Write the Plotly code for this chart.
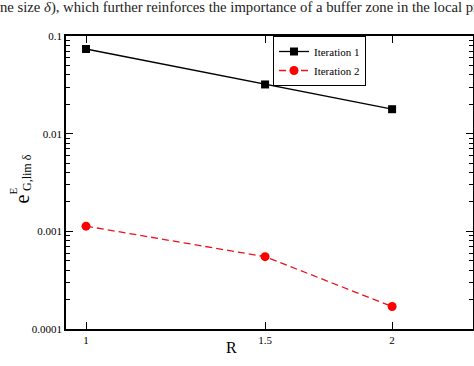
import plotly.graph_objects as go

R = [1, 1.5, 2]
iter1 = [0.0736, 0.0319, 0.0178]
iter2 = [0.00113, 0.00055, 0.00017]
names = ["Iteration 1", "Iteration 2"]
y_tickvals = [0.0001, 0.001, 0.01, 0.1]
y_ticktext = ["0.0001", "0.001", "0.01", "0.1"]
x_tickvals = [1, 1.5, 2]
x_ticktext = ["1", "1.5", "2"]

minor_y = [m * 10.0 ** e for e in range(-4, -1 + 1) for m in range(2, 10) if m * 10.0 ** e < 0.1]

SERIF = "Liberation Serif"
L, T, W, H = 66, 36, 407, 293


def px(x):
    return (x - L) / W


def py(y):
    return (T + H - y) / H


fig = go.Figure()
fig.add_trace(go.Scatter(x=R, y=iter1, name=names[0], mode="lines+markers",
                         line=dict(color="black", width=1.3),
                         marker=dict(symbol="square", size=8, color="black")))
fig.add_trace(go.Scatter(x=R, y=iter2, name=names[1], mode="lines+markers",
                         line=dict(color="#e8141c", width=1.3, dash="7px,4px"),
                         marker=dict(symbol="circle", size=9, color="#ff0000")))

fig.update_layout(
    width=474, height=366,
    margin=dict(l=L, r=474 - L - W, t=T, b=366 - T - H, autoexpand=False),
    paper_bgcolor="white", plot_bgcolor="white",
    font=dict(family=SERIF, color="black", size=11),
    showlegend=True,
    legend=dict(x=px(273), y=1.0, xanchor="left", yanchor="top",
                bgcolor="white", bordercolor="black", borderwidth=1,
                font=dict(family=SERIF, size=11, color="black"), tracegroupgap=0,
                itemwidth=30),
    xaxis=dict(type="log", range=[-0.0197, 0.3806],
               tickvals=x_tickvals, ticktext=x_ticktext,
               ticks="inside", ticklen=7, tickwidth=1, tickcolor="black",
               showline=True, linecolor="black", linewidth=1.5, mirror="allticks",
               showgrid=False, zeroline=False,
               tickfont=dict(family=SERIF, size=11)),
    yaxis=dict(type="log", range=[-4, -1],
               tickvals=y_tickvals, ticktext=y_ticktext,
               ticks="inside", ticklen=7, tickwidth=1, tickcolor="black",
               showline=True, linecolor="black", linewidth=1.5, mirror="allticks",
               showgrid=False, zeroline=False,
               tickfont=dict(family=SERIF, size=11),
               minor=dict(tickvals=minor_y, ticks="inside", ticklen=4,
                          tickcolor="black", tickwidth=1, showgrid=False)),
)

# x axis title
fig.add_annotation(text="R", xref="paper", yref="paper", x=px(231.5), y=py(347),
                   xanchor="center", yanchor="middle", showarrow=False,
                   font=dict(family=SERIF, size=16))

# y axis title composed of base, superscript and subscript
fig.add_annotation(text="e", xref="paper", yref="paper", x=px(21.5), y=py(199),
                   xanchor="center", yanchor="middle", showarrow=False, textangle=-90,
                   font=dict(family=SERIF, size=20))
fig.add_annotation(text="E", xref="paper", yref="paper", x=px(12), y=py(191.5),
                   xanchor="center", yanchor="middle", showarrow=False, textangle=-90,
                   font=dict(family=SERIF, size=11))
fig.add_annotation(text="G,lim δ", xref="paper", yref="paper", x=px(26.5), y=py(172.5),
                   xanchor="center", yanchor="middle", showarrow=False, textangle=-90,
                   font=dict(family=SERIF, size=12))

# clipped caption text at top
fig.add_annotation(text="ne size <i>δ</i>), which further reinforces the importance of a buffer zone in the local pr",
                   xref="paper", yref="paper", x=px(-2), y=py(7), xanchor="left", yanchor="middle",
                   showarrow=False, font=dict(family=SERIF, size=14.7, color="#222222"))

fig.write_html("out.html", config={"displayModeBar": False},
               post_script="document.body.style.margin='0';document.body.style.padding='0';document.body.style.overflow='hidden';")
